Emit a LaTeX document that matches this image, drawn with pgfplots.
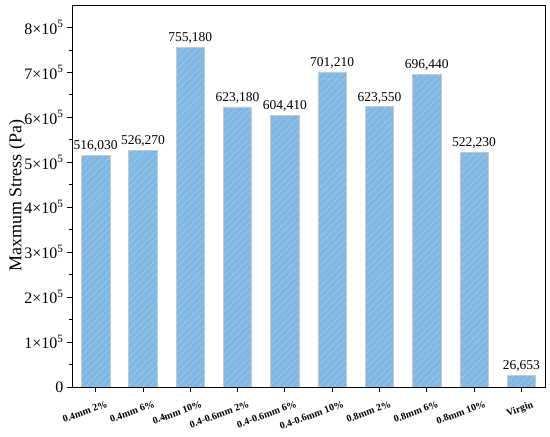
\documentclass[border=0pt]{standalone}
\usepackage{pgfplots}
\pgfplotsset{compat=1.18}
\usepackage{fontspec}
\setmainfont{Liberation Serif}
\usetikzlibrary{patterns.meta}
\definecolor{barfill}{RGB}{128,184,228}
\definecolor{hatch}{RGB}{165,204,236}
\definecolor{baredge}{RGB}{200,200,205}
\begin{document}
\begin{tikzpicture}
\begin{axis}[
  scale only axis,
  width=473pt, height=382pt,
  xmin=-0.5, xmax=9.5,
  ymin=0, ymax=850000,
  axis line style={black, line width=0.9pt},
  tick style={black, line width=0.8pt},
  tick align=outside,
  tick pos=left,
  major tick length=5pt,
  minor tick length=3pt,
  minor y tick num=1,
  xtick={0,...,9},
  xticklabels={0.4mm 2\%,0.4mm 6\%,0.4mm 10\%,0.4-0.6mm 2\%,0.4-0.6mm 6\%,0.4-0.6mm 10\%,0.8mm 2\%,0.8mm 6\%,0.8mm 10\%,Virgin},
  x tick label style={font=\fontsize{10}{11}\selectfont\bfseries, rotate=20, anchor=north east, xshift=10pt, yshift=-8pt},
  scaled y ticks=false,
  ytick={0,100000,...,800000},
  yticklabels={0,1×10\textsuperscript{5},2×10\textsuperscript{5},3×10\textsuperscript{5},4×10\textsuperscript{5},5×10\textsuperscript{5},6×10\textsuperscript{5},7×10\textsuperscript{5},8×10\textsuperscript{5}},
  y tick label style={font=\fontsize{16}{18}\selectfont},
  ylabel={\fontsize{18}{20}\selectfont Maxmum Stress (Pa)},
  ylabel style={at={(axis description cs:0,0.5)}, anchor=center, yshift=55pt},
  ybar,
  bar width=0.6,
  nodes near coords,
  point meta=y,
  every node near coord/.append style={font=\fontsize{13.5}{15}\selectfont, /pgf/number format/.cd, fixed, 1000 sep={,}, assume math mode=true},
  nodes near coords align={vertical},
]
\addplot[fill=barfill, draw=baredge, line width=0.6pt,
  postaction={pattern={Lines[angle=45, distance=5pt, line width=0.5pt]}, pattern color=hatch}]
  coordinates {(0,516030) (1,526270) (2,755180) (3,623180) (4,604410) (5,701210) (6,623550) (7,696440) (8,522230) (9,26653)};
\end{axis}
\path ([shift={(-72pt,-50pt)}]current axis.south west) rectangle ([shift={(5pt,5pt)}]current axis.north east);
\end{tikzpicture}
\end{document}
